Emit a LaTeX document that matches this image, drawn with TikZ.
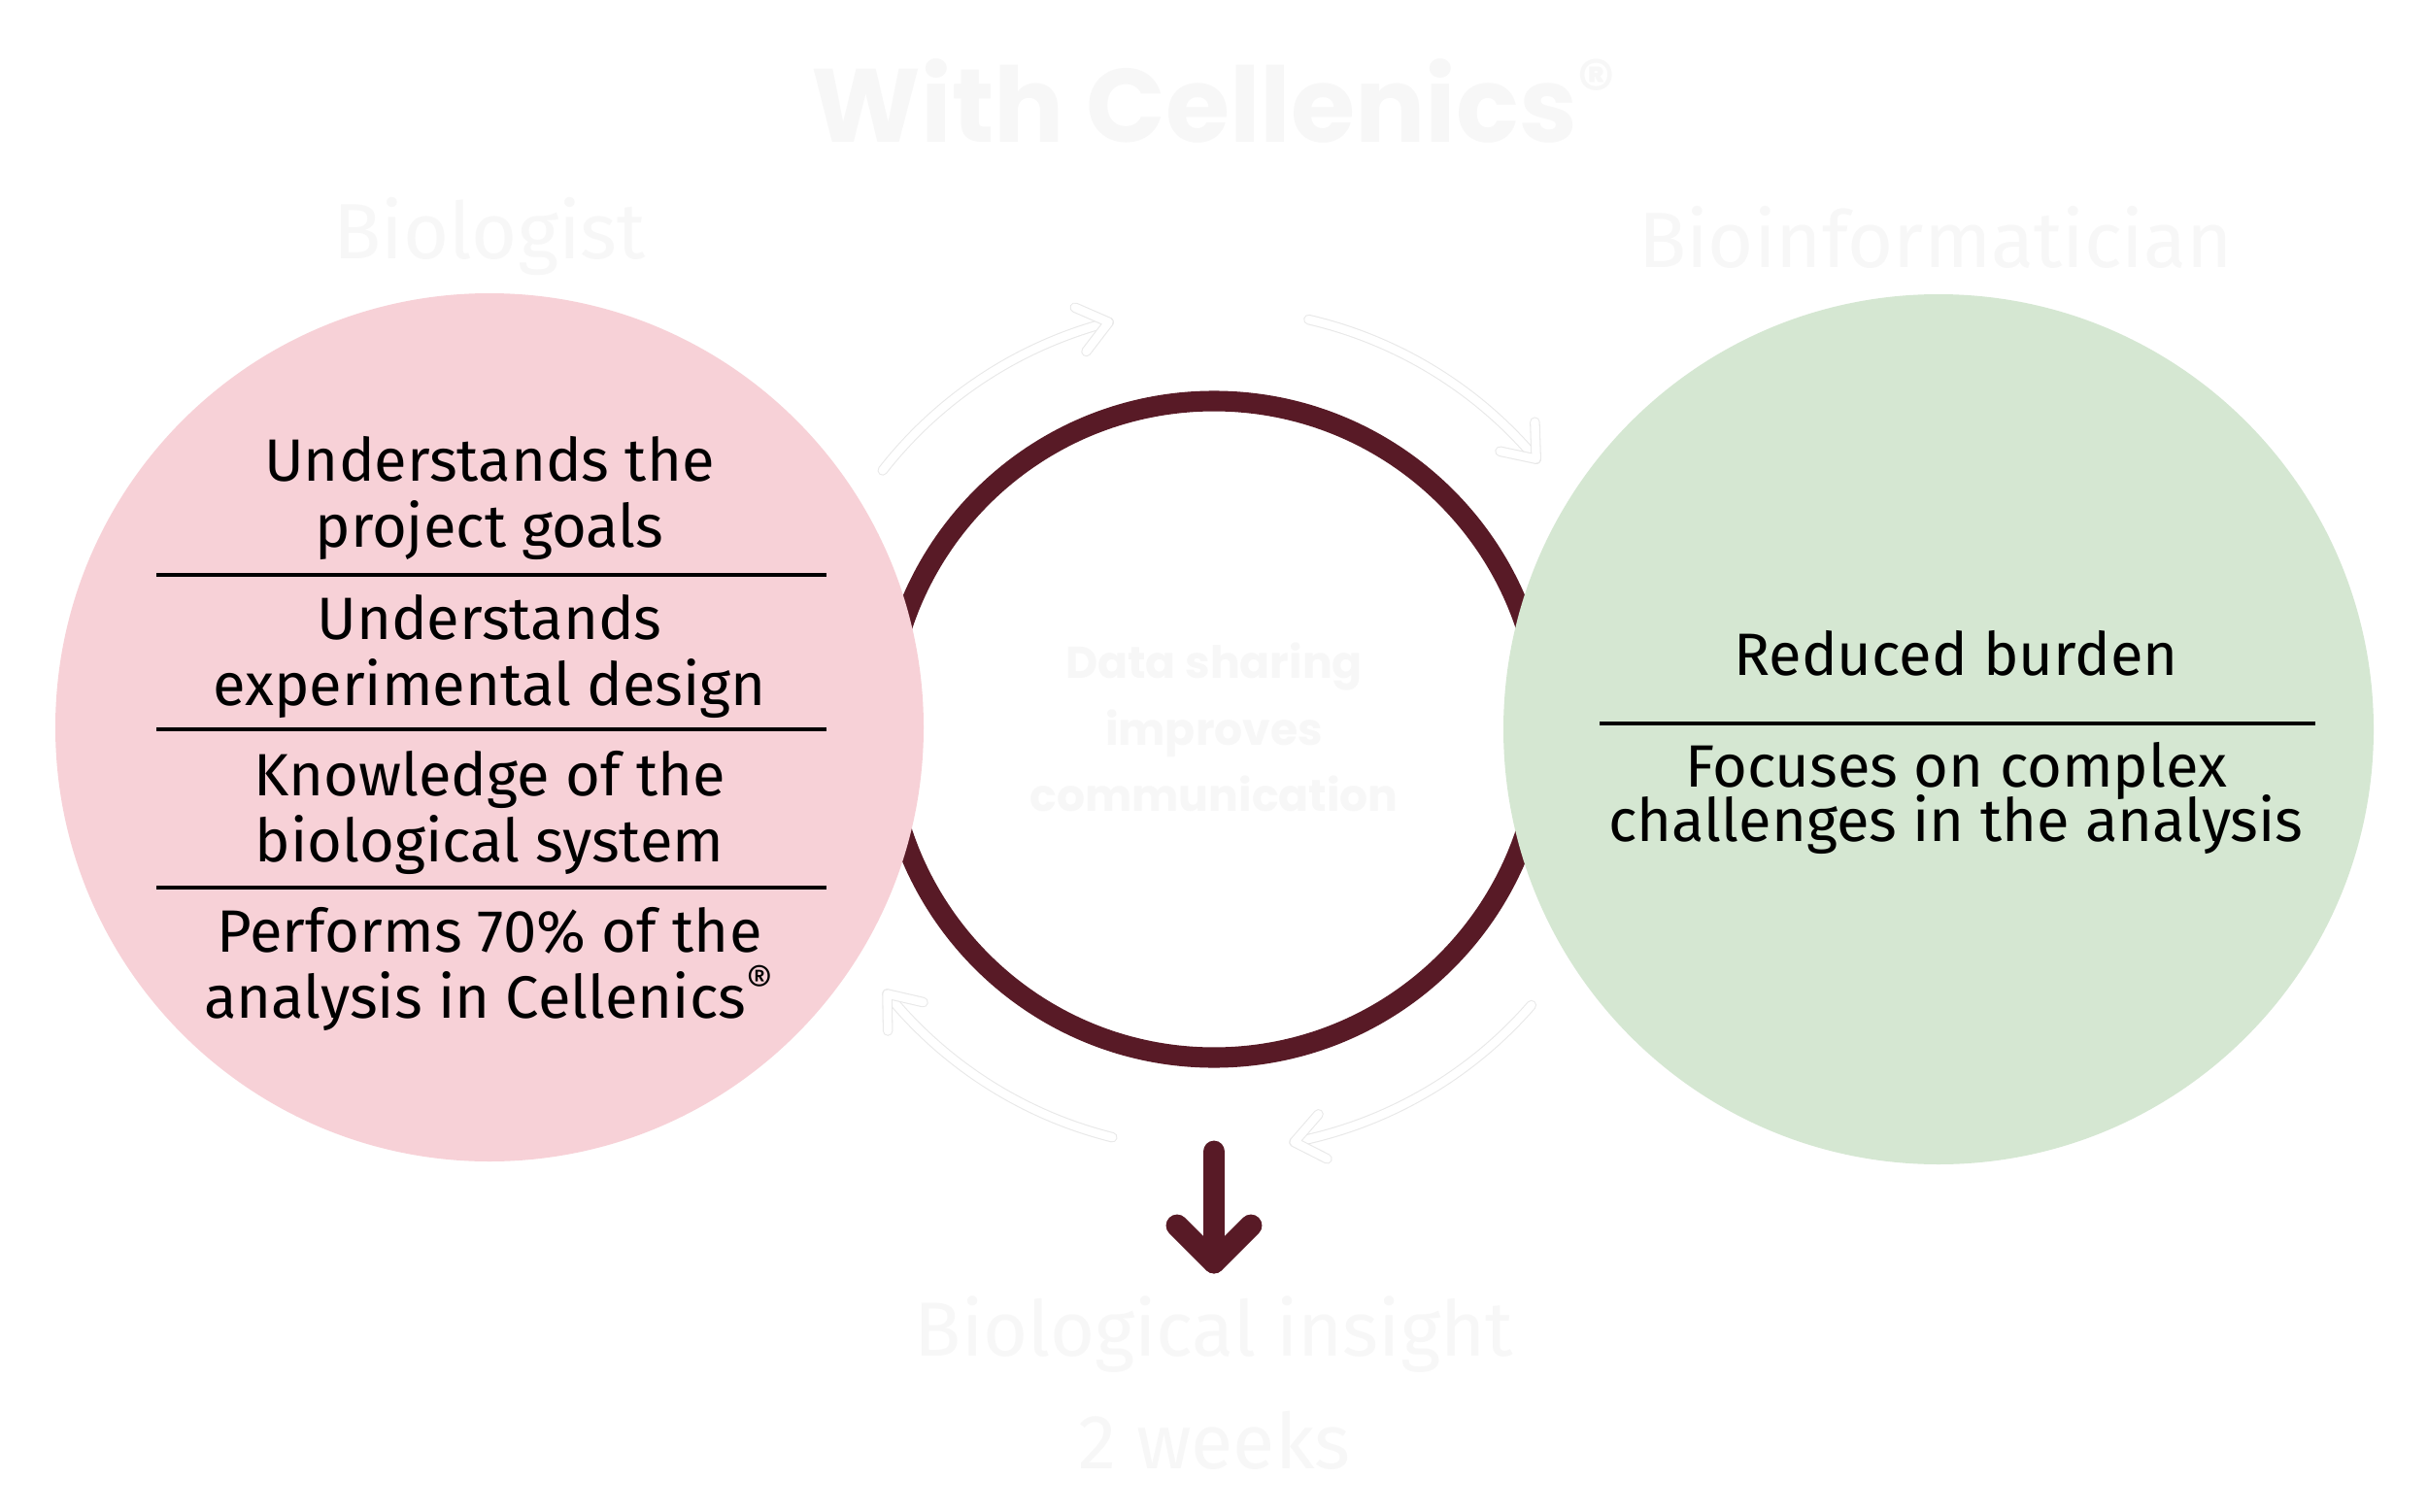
\documentclass[tikz,border=0pt]{standalone}
\usepackage{fontspec}
\setmainfont{Fira Sans}
\newfontfamily\roundfont{Poppins}
\usetikzlibrary{calc}

\definecolor{bioPink}{RGB}{247,209,215}
\definecolor{bioGreen}{RGB}{213,231,210}
\definecolor{ringRed}{RGB}{88,26,38}
\definecolor{ghost}{RGB}{247,247,247}

\newcommand\tightlines{\lineskiplimit=-20pt\relax}

\tikzset{
    itemtext/.style={align=center, font=\fontsize{17.5}{19.4}\selectfont\tightlines, text=black},
    headtext/.style={align=center, font=\fontsize{23}{27}\selectfont, text=ghost},
    septline/.style={line width=0.9pt, black},
    ghostarrow/.style={draw=black!9, double=white, double distance=2.4pt, line width=0.3pt, line cap=round, line join=round},
}

\begin{document}
\begin{tikzpicture}
    % fond et cadre
    \fill[white] (0,0) rectangle (25,-15.56);
    \useasboundingbox (0,0) rectangle (25,-15.56);

    % Titre
    \node[font=\roundfont\bfseries\fontsize{30.5}{36}\selectfont, text=ghost] (title) at (12.5,-1.04) {With Cellenics\textsuperscript{®}};

    % Anneau central
    \coordinate (ctr) at (12.5,-7.51);
    \draw[ringRed, line width=6pt] (ctr) circle (3.38);

    % Flèches du cycle (blanches)
    \draw[ghostarrow] ($(ctr)+(142:4.33)$) arc[start angle=142, end angle=104.5, radius=4.33];
    \draw[ghostarrow] ($(ctr)+(104.5:4.33)+(232.5:0.38)$) -- ($(ctr)+(104.5:4.33)$) -- ($(ctr)+(104.5:4.33)+(156.5:0.38)$);
    \draw[ghostarrow] ($(ctr)+(77:4.33)$) arc[start angle=77, end angle=40, radius=4.33];
    \draw[ghostarrow] ($(ctr)+(40:4.33)+(168:0.38)$) -- ($(ctr)+(40:4.33)$) -- ($(ctr)+(40:4.33)+(92:0.38)$);
    \draw[ghostarrow] ($(ctr)+(-41:4.33)$) arc[start angle=-41, end angle=-79, radius=4.33];
    \draw[ghostarrow] ($(ctr)+(-79:4.33)+(49:0.38)$) -- ($(ctr)+(-79:4.33)$) -- ($(ctr)+(-79:4.33)+(-27:0.38)$);
    \draw[ghostarrow] ($(ctr)+(-104:4.33)$) arc[start angle=-104, end angle=-141, radius=4.33];
    \draw[ghostarrow] ($(ctr)+(-141:4.33)+(-13:0.38)$) -- ($(ctr)+(-141:4.33)$) -- ($(ctr)+(-141:4.33)+(-89:0.38)$);

    % Cercles
    \node[circle, fill=bioPink, minimum size=8.94cm, inner sep=0pt] (bio) at (5.04,-7.49) {};
    \node[circle, fill=bioGreen, minimum size=8.96cm, inner sep=0pt] (bioinf) at (19.96,-7.51) {};

    % Titres des cercles
    \node[headtext] (biohead) at (5.04,-2.44) {Biologist};
    \node[headtext] (bioinfhead) at (19.93,-2.44) {Bioinformatician};

    % Texte du biologiste
    \node[itemtext] (goals) at (5.04,-5.13) {Understands the\\project goals};
    \draw[septline] (1.61,-5.92) -- (8.51,-5.92);
    \node[itemtext] (design) at (5.04,-6.76) {Understands\\experimental design};
    \draw[septline] (1.61,-7.51) -- (8.51,-7.51);
    \node[itemtext] (system) at (5.04,-8.37) {Knowledge of the\\biological system};
    \draw[septline] (1.61,-9.14) -- (8.51,-9.14);
    \node[itemtext] (perform) at (5.04,-9.98) {Performs 70\% of the\\analysis in Cellenics\textsuperscript{®}};

    % Texte du bioinformaticien
    \node[itemtext] (burden) at (20.14,-6.73) {Reduced burden};
    \draw[septline] (16.47,-7.45) -- (23.84,-7.45);
    \node[itemtext, font=\fontsize{17.5}{16}\selectfont\tightlines] (complex) at (20.14,-8.22) {Focuses on complex\\challenges in the analysis};

    % Texte central
    \node[align=center, font=\roundfont\bfseries\fontsize{13}{19.5}\selectfont, text=ghost] (share) at (12.5,-7.49) {Data sharing\\improves\\communication};

    % Flèche vers le résultat
    \coordinate (arrtop) at (12.5,-11.86);
    \coordinate (arrtip) at (12.5,-13.0);
    \draw[ringRed, line width=6.5pt, line cap=round, line join=round] (arrtop) -- (arrtip);
    \draw[ringRed, line width=6.5pt, line cap=round, line join=round] (12.12,-12.62) -- (arrtip) -- (12.88,-12.62);

    % Résultat
    \node[headtext, font=\fontsize{22.5}{27}\selectfont] (insight) at (12.5,-13.74) {Biological insight};
    \node[headtext, font=\fontsize{22.5}{27}\selectfont] (weeks) at (12.5,-14.83) {2 weeks};
\end{tikzpicture}
\end{document}
